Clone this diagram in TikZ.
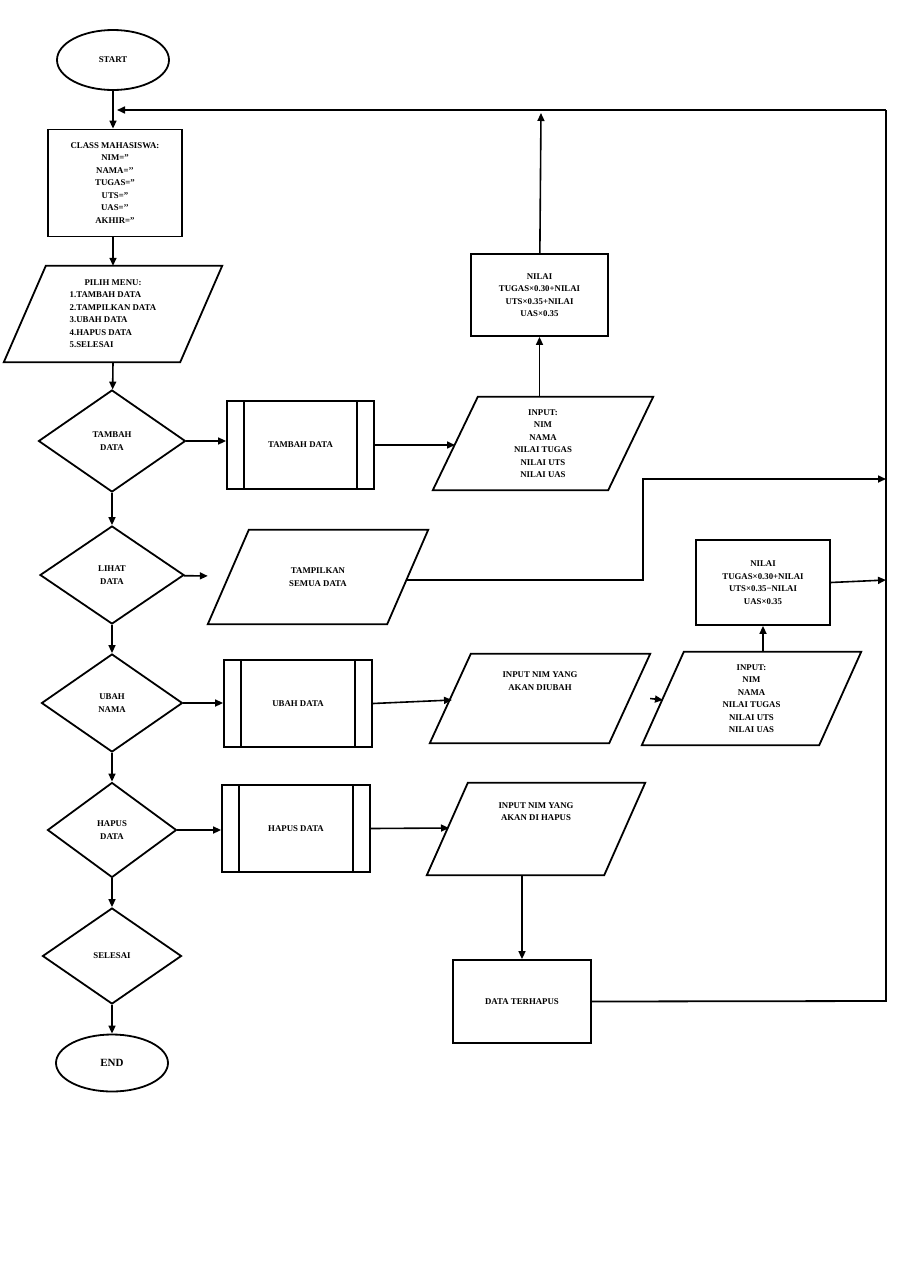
\documentclass[tikz,border=0pt]{standalone}
\usepackage{fontspec}
\setmainfont{Liberation Serif}
\usetikzlibrary{shapes.geometric,arrows.meta,calc}
\newcommand{\mypara}[7]{%
  \node[minimum width=#4,minimum height=#5,inner sep=0pt] (#1) at (#2,#3) {#7};
  \draw[ln,line join=miter] ($(#1.south west)$) -- ($(#1.north west)+(#6,0)$) -- ($(#1.north east)$) -- ($(#1.south east)+(-#6,0)$) -- cycle;}
\begin{document}
\begin{tikzpicture}[x=1pt,y=-1pt,
  every node/.style={font=\bfseries\fontsize{8.8}{12.5}\selectfont,align=center,inner sep=1pt},
  ln/.style={line width=1.8pt},
  ar/.style={line width=1.6pt,-{Triangle[length=8pt,width=7pt]}},
  term/.style={draw,ln,ellipse,minimum width=112,minimum height=60},
  box/.style={draw,ln,rectangle},
  dec/.style={draw,ln,diamond,inner sep=0pt},
  pre/.style={draw,ln,rectangle,minimum width=147,minimum height=88}]
\useasboundingbox (0,0) rectangle (905,1280);
\node[term] (start) at (113,60) {START};
\node[box,minimum width=134,minimum height=107] (cls) at (115,183) {CLASS MAHASISWA:\\NIM=”\\NAMA=’’\\TUGAS=”\\UTS=”\\UAS=’’\\AKHIR=”};
\mypara{menu}{113}{314}{218}{96}{42}{\begin{tabular}{@{}l@{}}\multicolumn{1}{c}{PILIH MENU:}\\1.TAMBAH DATA\\2.TAMPILKAN DATA\\3.UBAH DATA\\4.HAPUS DATA\\5.SELESAI\end{tabular}}
\node[dec,minimum width=147,minimum height=102] (d1) at (112,441) {TAMBAH\\DATA};
\node[dec,minimum width=144,minimum height=98] (d2) at (112,575) {LIHAT\\DATA};
\node[dec,minimum width=141,minimum height=98] (d3) at (112,703) {UBAH\\NAMA};
\node[dec,minimum width=129,minimum height=95] (d4) at (112,830) {HAPUS\\DATA};
\node[dec,minimum width=139,minimum height=96] (d5) at (112,956) {SELESAI};
\node[term,minimum height=57] (end) at (112,1063) {\fontsize{11}{12}\selectfont END};

\node[pre] (p1) at (300.5,445) {TAMBAH DATA};
\node[pre,minimum width=148,minimum height=87] (p2) at (298,703.5) {UBAH DATA};
\node[pre,minimum width=148,minimum height=87] (p3) at (296,828.5) {HAPUS DATA};
\foreach \n in {p1,p2,p3}{
  \draw[ln] ($(\n.north west)+(18,0)$) -- ($(\n.south west)+(18,0)$);
  \draw[ln] ($(\n.north east)+(-18,0)$) -- ($(\n.south east)+(-18,0)$);}

\mypara{in1}{543}{443.5}{220}{93}{45}{INPUT:\\NIM\\NAMA\\NILAI TUGAS\\NILAI UTS\\NILAI UAS}
\node[box,minimum width=137,minimum height=82] (n1) at (539.5,295) {NILAI\\TUGAS×0.30+NILAI\\UTS×0.35+NILAI\\UAS×0.35};
\mypara{tp}{318}{577}{220}{94}{41}{TAMPILKAN\\SEMUA DATA}
\mypara{nim1}{540}{698.5}{220}{89}{41}{INPUT NIM YANG\\AKAN DIUBAH\\[22pt]}
\mypara{in2}{751.5}{698.5}{219}{93}{42}{INPUT:\\NIM\\NAMA\\NILAI TUGAS\\NILAI UTS\\NILAI UAS}
\node[box,minimum width=134,minimum height=85] (n2) at (763,582.5) {NILAI\\TUGAS×0.30+NILAI\\UTS×0.35−NILAI\\UAS×0.35};
\mypara{nim2}{536}{829}{218}{92}{41}{INPUT NIM YANG\\AKAN DI HAPUS\\[22pt]}
\node[box,minimum width=138,minimum height=83] (del) at (522,1001.5) {DATA TERHAPUS};

\coordinate (loopR) at (886,110);
\coordinate (loopL) at (117,110);
\coordinate (up1) at (541,113);
\coordinate (delR) at (886,1001);
\coordinate (t1) at (643,580);
\coordinate (t2) at (643,479);
\coordinate (t3) at (886,479);
\coordinate (n2R) at (886,580);
\coordinate (a1) at (455,445);
\coordinate (a2) at (452,700);
\coordinate (a3) at (663,700);
\coordinate (a4) at (449,828);
\coordinate (tpR) at (406,580);

\draw[ar] (start) -- (start |- cls.north);
\draw[ar] (cls.south -| menu) -- (menu.north -| menu);
\draw[ar] (menu.south) -- (d1);
\draw[ar] (d1) -- (d2);
\draw[ar] (d2) -- (d3);
\draw[ar] (d3) -- (d4);
\draw[ar] (d4) -- (d5);
\draw[ar] (d5) -- (end);
\draw[ar] (d1.east) -- (p1.west |- d1.east);
\draw[ar] (d2) -- (tp);
\draw[ar] (d3.east) -- (p2.west |- d3.east);
\draw[ar] (d4.east) -- (p3.west |- d4.east);
\draw[ar] (p1.east) -- (a1);
\draw[ar] (in1.north -| n1.south) -- (n1.south);
\draw[ar] (n1) -- (up1);
\draw[ar] (p2.east) -- (a2);
\draw[ar] (nim1.east) -- (a3);
\draw[ar] (in2.north -| n2.south) -- (n2.south);
\draw[ar] (n2.east) -- (n2R);
\draw[ar] (p3.east) -- (a4);
\draw[ar] (nim2.south -| del.north) -- (del.north);
\draw[ar] (tpR) -- (t1) -- (t2) -- (t3);
\draw[ln] (del.east) -- (delR) -- (loopR);
\draw[ar] (loopR) -- (loopL);
\end{tikzpicture}
\end{document}
